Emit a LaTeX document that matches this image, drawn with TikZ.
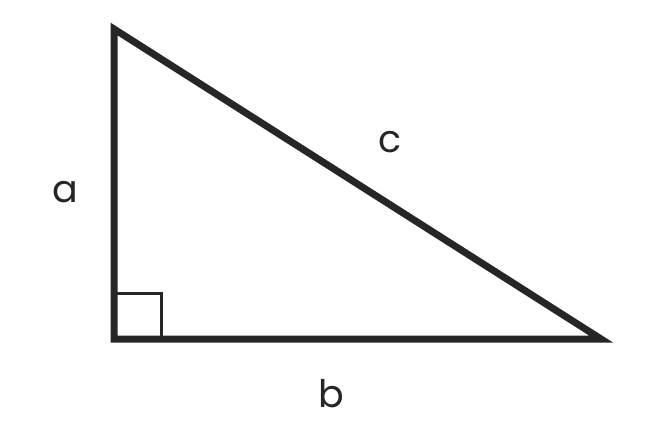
\documentclass[tikz,border=0pt]{standalone}
\usepackage{fontspec}
\setmainfont{Poppins}
\usepackage{tikz}
\usetikzlibrary{positioning}

\begin{document}
\begin{tikzpicture}[x=1pt,y=-1pt,
    side/.style={line width=7pt,color=black!85,line join=miter},
    lbl/.style={font=\fontsize{38}{40}\selectfont,color=black!85,anchor=base,inner sep=0pt}]
            \useasboundingbox (0,0) rectangle (650,424);
            % Triangle corners
            \coordinate (A) at (114,29);
            \coordinate (B) at (114,339);
            \coordinate (C) at (601,339);
            \draw[side] (A) -- (B) -- (C) -- cycle;
            % Right angle mark
            \draw[line width=3pt,color=black!85] (114,293) -| (161,339);
            % Side labels
            \node[lbl] (la) at (65,202) {a};
            \node[lbl] (lc) at (390,152) {c};
            \node[lbl] (lb) at (331,407) {b};
        \end{tikzpicture}
\end{document}
